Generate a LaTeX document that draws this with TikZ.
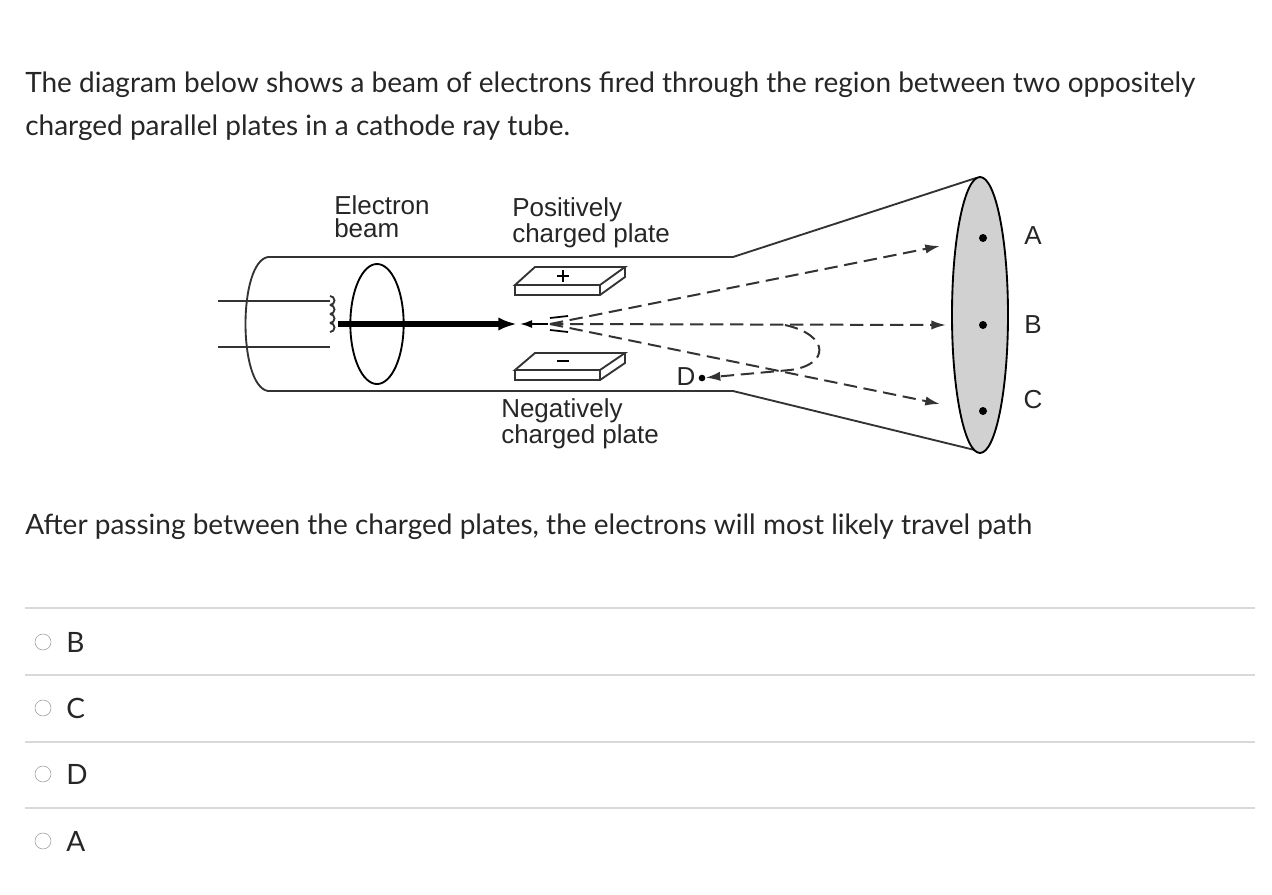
\documentclass[tikz,border=0pt]{standalone}
\usepackage{fontspec}
\setmainfont{Lato}
\newfontfamily\lab{Liberation Sans}
\usetikzlibrary{arrows.meta,shapes.geometric}
\begin{document}
\begin{tikzpicture}[x=0.75pt,y=-0.75pt,
  q/.style={anchor=west,font=\fontsize{21}{24}\selectfont,text=black!85,inner sep=0},
  lb/.style={anchor=west,font=\lab\fontsize{19.5}{17}\selectfont,text=black!85,inner sep=0,align=left},
  ln/.style={line width=1.4pt,black!80},
  dsh/.style={line width=1.5pt,black!80,dash pattern=on 10pt off 5pt},
  tip/.style={-{Latex[length=11pt,width=7pt]}},
  sep/.style={draw=black!15,line width=0.8pt},
  radio/.style={circle,draw=black!40,minimum size=12pt,inner sep=0}]
\useasboundingbox (0,0) rectangle (1272,894);
\node[q] (t1) at (25,85) {The diagram below shows a beam of electrons fired through the region between two oppositely};
\node[q] (t2) at (25,128) {charged parallel plates in a cathode ray tube.};
\node[q] (t3) at (25,527) {After passing between the charged plates, the electrons will most likely travel path};
% tube
\draw[ln] (733,257) -- (268,257) .. controls (238,262) and (238,386) .. (268,391) -- (733,391);
\draw[ln] (733,257) -- (976,178);
\draw[ln] (733,391) -- (983,452);
\node[ellipse,draw,fill=black!18,line width=1.4pt,minimum width=42pt,minimum height=207pt,inner sep=0] (scr) at (980,315) {};
% leads and filament
\draw[ln] (218,301) -- (330,301);
\draw[ln] (218,347) -- (330,347);
\foreach \yy in {305,314,323,332} \draw[ln] (330,\yy) arc (90:-90:4.5);
\node[ellipse,draw,line width=1.4pt,minimum width=40pt,minimum height=90pt,inner sep=0] (lens) at (377,324) {};
% beam
\coordinate (g) at (338,324);
\coordinate (bt) at (517,324);
\draw[line width=4.5pt,-{Latex[length=14pt,width=10pt]}] (g) -- (bt);
\draw[line width=1.3pt,-{Latex[length=9pt,width=6pt]}] (548,324) -- (520,324);
% plates
\draw[ln,fill=white] (515,285) -- (535,267) -- (625,267) -- (600,285) -- cycle;
\draw[ln] (515,285) -- (515,295) -- (600,295) -- (625,277) -- (625,267) (600,285) -- (600,295);
\draw[line width=0.9pt] (563,270) -- (563,282) (557,276) -- (569,276);
\draw[ln,fill=white] (515,370) -- (535,353) -- (625,353) -- (600,370) -- cycle;
\draw[ln] (515,370) -- (515,380) -- (600,380) -- (625,363) -- (625,353) (600,370) -- (600,380);
\draw[line width=0.9pt] (557,361) -- (569,361);
% paths
\coordinate (o) at (550,324);
\coordinate (pA) at (940,246);
\coordinate (pB) at (946,325);
\coordinate (pC) at (940,404);
\draw[dsh,tip] (o) -- (pA);
\draw[dsh,tip] (o) -- (pB);
\draw[dsh,tip] (o) -- (pC);
\draw[line width=1.3pt] (550,318) -- (568,316) (550,330) -- (568,332);
\node[circle,fill,inner sep=0,minimum size=6pt] (dA) at (983,238) {};
\node[circle,fill,inner sep=0,minimum size=6pt] (dB) at (983,325) {};
\node[circle,fill,inner sep=0,minimum size=6pt] (dC) at (983,411) {};
\node[circle,fill,inner sep=0,minimum size=5pt] (dD) at (702,378) {};
\draw[dsh,tip] (785,325) .. controls (830,335) and (830,365) .. (790,370) -- (dD);
\node[lb,anchor=center] (lA) at (1033,236) {A};
\node[lb,anchor=center] (lB) at (1033,325) {B};
\node[lb,anchor=center] (lC) at (1033,400) {C};
\node[lb,anchor=center] (lD) at (686,377) {D};
\node[lb] (eb) at (334,217) {Electron\\beam};
\node[lb] (pp) at (512,223) {Positively\\charged plate};
\node[lb] (np) at (501,424) {Negatively\\charged plate};
% options
\foreach \yy in {608,675,742,808} \draw[sep] (25,\yy) -- (1255,\yy);
\node[radio] (r1) at (43,642) {};
\node[radio] (r2) at (43,708) {};
\node[radio] (r3) at (43,774) {};
\node[radio] (r4) at (43,841) {};
\node[q] (o1) at (66,642) {B};
\node[q] (o2) at (66,708) {C};
\node[q] (o3) at (66,774) {D};
\node[q] (o4) at (66,841) {A};
\end{tikzpicture}
\end{document}
